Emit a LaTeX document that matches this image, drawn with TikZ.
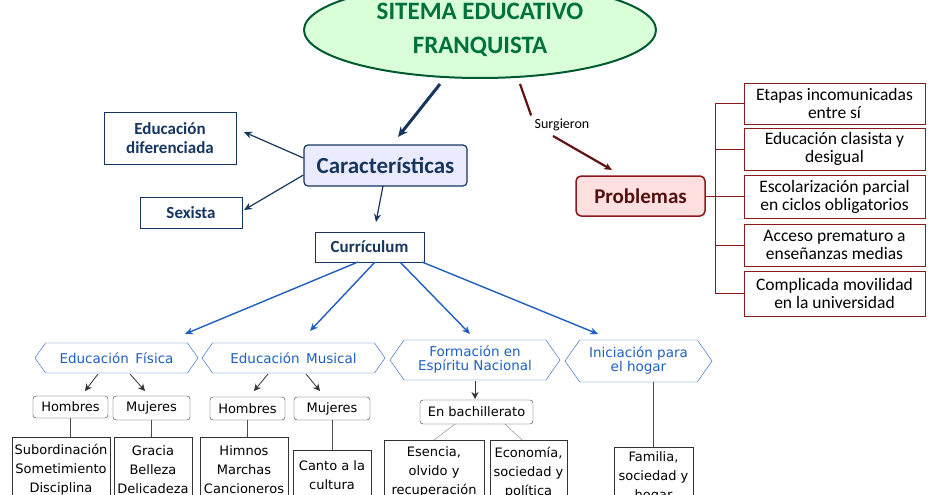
\documentclass[tikz,border=0pt]{standalone}
\usepackage{fontspec}
\setmainfont{Carlito}
\newfontfamily\dv{DejaVu Sans}
\usetikzlibrary{shapes.geometric,shapes.symbols,arrows.meta}
\definecolor{navy}{HTML}{17365D}
\definecolor{bl}{HTML}{1F5FBF}
\definecolor{mar}{HTML}{8B1A1A}
\definecolor{grn}{HTML}{00703C}
\tikzset{
 x=1pt,y=-1pt,
 bluebox/.style={draw=navy,fill=white,text=navy,font=\bfseries\fontsize{17}{19}\selectfont,align=center,inner sep=0pt},
 hexa/.style={draw=bl,text=bl,font=\dv\fontsize{13.5}{14}\selectfont,align=center,signal,signal to=east and west,signal pointer angle=110,inner sep=0pt},
 small/.style={draw=black!80,rounded corners=3pt,font=\dv\fontsize{13}{14}\selectfont,inner sep=0pt},
 leaf/.style={draw=black!80,font=\dv\fontsize{13}{19}\selectfont,align=center,inner sep=0pt,anchor=north},
 prob/.style={draw=mar,font=\fontsize{17.5}{18}\selectfont,align=center,inner sep=0pt,minimum width=181pt},
 barr/.style={-{Stealth[length=8pt,width=7pt]},draw=bl,line width=1.4pt},
 karr/.style={-{Stealth[length=7pt,width=7pt]},draw=black!80,line width=0.8pt},
}
\begin{document}
\begin{tikzpicture}
\useasboundingbox (0,0) rectangle (942,495);
\clip (0,0) rectangle (942,495);
\node[ellipse,draw=grn!80!black,line width=2pt,fill=green!15,minimum width=352pt,minimum height=96pt,text=grn,font=\bfseries\fontsize{25}{34}\selectfont,align=center] (root) at (480,30) {SITEMA EDUCATIVO\\FRANQUISTA};
\node[draw=navy,line width=1.2pt,fill=blue!8,rounded corners=4pt,minimum width=163pt,minimum height=41pt,text=navy,font=\bfseries\fontsize{23}{24}\selectfont] (car) at (385.5,165.5) {Características};
\node[bluebox,minimum width=132pt,minimum height=52pt] (dif) at (170,138) {Educación\\diferenciada};
\node[bluebox,minimum width=102pt,minimum height=31pt] (sex) at (191,212.5) {Sexista};
\node[bluebox,minimum width=109pt,minimum height=30pt] (cur) at (369.5,247) {Currículum};
\draw[-{Stealth[length=10pt,width=9pt]},navy,line width=3pt] (440,84) -- (398,137);
\draw[-{Stealth[length=8pt,width=7pt]},navy,line width=1.2pt] (car.west|-0,158) -- (244,132);
\draw[-{Stealth[length=8pt,width=7pt]},navy,line width=1.2pt] (car.west|-0,175) -- (244,210);
\draw[-{Stealth[length=8pt,width=7pt]},navy,line width=1.2pt] (383,186) -- (376,222);
% problemas
\node[font=\fontsize{14}{15}\selectfont] (sur) at (562,125) {Surgieron};
\node[draw=mar,line width=1.5pt,fill=red!12,rounded corners=5pt,minimum width=129pt,minimum height=40pt,text=mar!60!black,font=\bfseries\fontsize{21}{22}\selectfont] (prb) at (640.5,196) {Problemas};
\draw[mar!70!black,line width=2.2pt] (520,84) -- (sur.north west);
\draw[-{Stealth[length=8pt,width=7pt]},mar!70!black,line width=2.2pt] (553,136) -- (612,170);
\node[prob,minimum height=41pt] (p1) at (834.5,103.5) {Etapas incomunicadas\\entre sí};
\node[prob,minimum height=42pt] (p2) at (834.5,149) {Educación clasista y\\desigual};
\node[prob,minimum height=43pt] (p3) at (834.5,196.5) {Escolarización parcial\\en ciclos obligatorios};
\node[prob,minimum height=42pt] (p4) at (834.5,245) {Acceso prematuro a\\enseñanzas medias};
\node[prob,minimum height=45pt] (p5) at (834.5,293.5) {Complicada movilidad\\en la universidad};
\coordinate (bt) at (715,103.5);
\coordinate (bb) at (715,293.5);
\draw[mar] (bt) -- (bb);
\foreach \p in {p1,p2,p3,p4,p5} \draw[mar] (\p.west) -- (\p.west -| bt);
\draw[mar] (prb.east) -- (prb.east -| bt);
% hexagons
\node[hexa,minimum width=163pt,minimum height=30pt] (ef) at (116.5,358) {Educación\, Física};
\node[hexa,minimum width=183pt,minimum height=30pt] (em) at (293.5,358) {Educación\, Musical};
\node[hexa,minimum width=170pt,minimum height=40pt] (fen) at (475,360) {Formación en\\Espíritu Nacional};
\node[hexa,minimum width=147pt,minimum height=42pt] (ih) at (638.5,361) {Iniciación para\\el hogar};
\draw[barr] (358,262) -- (185,334);
\draw[barr] (375,262) -- (310,331);
\draw[barr] (400,262) -- (470,334);
\draw[barr] (422,262) -- (598,334);
% small boxes
\node[small,minimum width=75pt,minimum height=22pt] (h1) at (70.5,407) {Hombres};
\node[small,minimum width=77pt,minimum height=24pt] (m1) at (151.5,408) {Mujeres};
\node[small,minimum width=75pt,minimum height=23pt] (h2) at (247.5,408.5) {Hombres};
\node[small,minimum width=76pt,minimum height=23pt] (m2) at (332,408.5) {Mujeres};
\node[small,minimum width=113pt,minimum height=24pt] (bach) at (476.5,412) {En bachillerato};
\draw[karr] (98,374) -- (85,391);
\draw[karr] (130,374) -- (145,391);
\draw[karr] (268,374) -- (254,391);
\draw[karr] (306,374) -- (320,391);
\draw[karr] (475,381) -- (475,399);
% leaves
\node[leaf,minimum width=98pt,minimum height=64pt] (l1) at (61,437) {Subordinación\\Sometimiento\\Disciplina};
\node[leaf,minimum width=78pt,minimum height=64pt] (l2) at (153,437) {Gracia\\Belleza\\Delicadeza};
\node[leaf,minimum width=88pt,minimum height=64pt] (l3) at (244,437) {Himnos\\Marchas\\Cancioneros};
\node[leaf,minimum width=78pt,minimum height=50pt] (l4) at (332,450) {Canto a la\\cultura};
\node[leaf,minimum width=100pt,minimum height=64pt] (l5) at (434,440) {Esencia,\\olvido y\\recuperación};
\node[leaf,minimum width=77pt,minimum height=64pt] (l6) at (528.5,440) {Economía,\\sociedad y\\política};
\node[leaf,minimum width=79pt,minimum height=60pt] (l7) at (653.5,447) {Familia,\\sociedad y\\hogar};
\draw[black!70] (h1.south) -- (h1.south|-l1.north);
\draw[black!70] (m1.south) -- (m1.south|-l2.north);
\draw[black!70] (h2.south) -- (h2.south|-l3.north);
\draw[black!70] (m2.south) -- (m2.south|-l4.north);
\draw[black!50] (455,424) -- (l5.north);
\draw[black!50] (505,424) -- (522,440);
\draw[black!70] (ih.south-|l7.north) -- (l7.north);
\end{tikzpicture}
\end{document}
